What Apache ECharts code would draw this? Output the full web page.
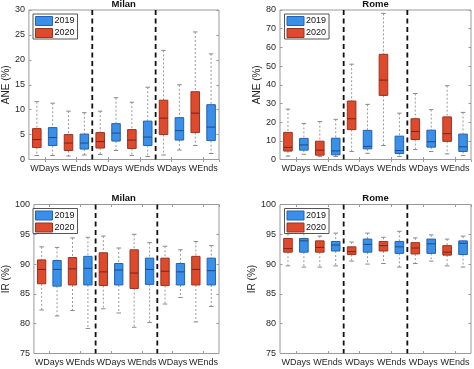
<!DOCTYPE html>
<html><head><meta charset="utf-8">
<script src="https://cdn.jsdelivr.net/npm/echarts@6/dist/echarts.min.js"></script>
<style>html,body{margin:0;padding:0;background:#fff}#c{width:474px;height:369px}</style>
</head><body><div id="c"></div>
<script>
// ---- data ----
const slots = ['1','2','3','4','5','6','7','8','9','10','11','12'];
const groupLabels = ['WDays','WEnds','WDays','WEnds','WDays','WEnds'];
const years = ['2019','2020'];
const dividerPairs = [[3,4],[7,8]];
const panelTitles = ['Milan','Rome','Milan','Rome'];
const yNames = ['ANE (%)','ANE (%)','IR (%)','IR (%)'];
const yMins = [0,0,75,75];
const yMaxs = [30,80,100,100];
const yIntervals = [5,10,5,5];

// [min, q1, median, q3, max] — 2020 boxes (odd slots), 2019 boxes (even slots)
const milanANE_2020 = [[0.8,2.4,4.0,6.2,11.6],[0.7,1.8,3.3,5.0,9.7],[1.0,2.3,3.6,5.4,9.7],[0.8,2.2,3.9,6.0,11.5],[0.9,5.0,8.3,11.9,21.9],[2.8,5.4,9.3,13.6,25.6]];
const milanANE_2019 = [[0.8,2.8,4.4,6.4,11.3],[0.9,2.1,3.3,5.1,9.4],[1.8,3.7,5.3,7.2,12.4],[0.6,2.8,4.5,7.7,14.5],[1.9,3.9,5.8,8.4,15.0],[1.2,3.8,6.5,11.0,21.2]];
const romeANE_2020 = [[1.8,4.5,6.5,14.5,27.0],[1.5,2.3,5.0,9.8,20.3],[4.3,16.0,21.8,31.3,51.0],[7.5,34.3,42.5,56.3,78.2],[5.3,10.7,15.0,21.8,35.3],[3.0,9.7,13.8,22.8,39.5]];
const romeANE_2019 = [[2.8,5.0,7.8,11.3,19.3],[1.6,2.5,4.6,11.4,21.5],[3.3,5.7,7.0,15.6,29.5],[1.6,3.2,4.8,12.5,24.8],[4.3,6.6,9.5,15.7,26.7],[2.1,4.3,6.8,13.6,25.2]];
const milanIR_2020 = [[82.3,86.7,89.1,90.7,92.9],[82.2,86.5,89.2,91.1,94.4],[82.5,86.4,88.7,91.9,94.7],[79.4,85.9,88.5,92.4,95.0],[83.3,86.4,88.8,91.0,93.0],[80.3,86.5,89.1,91.3,93.8]];
const milanIR_2019 = [[81.3,86.3,89.1,90.6,92.8],[79.2,86.5,89.3,91.3,94.5],[81.8,86.5,89.0,90.1,92.7],[80.2,86.6,89.1,91.0,93.6],[84.4,86.5,88.7,90.1,92.4],[82.9,86.5,88.9,91.0,93.1]];
const romeIR_2020 = [[89.7,92.0,92.6,94.3,95.1],[89.5,92.0,92.8,93.9,94.7],[90.5,91.6,92.1,92.9,93.7],[90.1,92.2,93.1,93.8,94.5],[90.1,91.7,92.7,93.6,94.4],[89.7,91.5,92.0,93.1,94.2]];
const romeIR_2019 = [[89.5,92.0,93.9,94.3,95.8],[89.7,92.2,93.2,93.8,95.2],[90.0,92.0,93.3,94.2,95.2],[89.5,91.8,92.9,93.8,95.5],[90.5,91.8,93.4,94.2,94.9],[89.5,91.6,93.5,93.9,94.7]];

const panels2020 = [milanANE_2020, romeANE_2020, milanIR_2020, romeIR_2020];
const panels2019 = [milanANE_2019, romeANE_2019, milanIR_2019, romeIR_2019];

// ---- style ----
const FONT = 'Liberation Sans, Arial, sans-serif';
const colors = {
  '2019': {fill:'#3a8fe8', border:'#2462ad', median:'#1b4c86'},
  '2020': {fill:'#de4a2c', border:'#9c3220', median:'#7a2416'}
};
const grids = [
  {left:28.5, top:10, width:190.5, height:149.5},
  {left:280, top:10, width:191, height:149.5},
  {left:28.5, top:204.5, width:190.5, height:149},
  {left:280, top:204.5, width:191, height:149}
];

function renderBox(year) {
  const c = colors[year];
  return function (params, api) {
    const x = api.value(0);
    const pMin = api.coord([x, api.value(1)]);
    const pQ1 = api.coord([x, api.value(2)]);
    const pMed = api.coord([x, api.value(3)]);
    const pQ3 = api.coord([x, api.value(4)]);
    const pMax = api.coord([x, api.value(5)]);
    const band = api.size([1, 0])[0];
    const w = band * 0.54;
    const cx = pMin[0];
    const capW = 4.5;
    const dash = {stroke:'#9a9a9a', lineWidth:1, lineDash:[2,2]};
    const cap = {stroke:'#8a8a8a', lineWidth:1};
    return {type:'group', children:[
      {type:'line', shape:{x1:cx,y1:pMax[1],x2:cx,y2:pQ3[1]}, style:dash},
      {type:'line', shape:{x1:cx,y1:pQ1[1],x2:cx,y2:pMin[1]}, style:dash},
      {type:'line', shape:{x1:cx-capW/2,y1:pMax[1],x2:cx+capW/2,y2:pMax[1]}, style:cap},
      {type:'line', shape:{x1:cx-capW/2,y1:pMin[1],x2:cx+capW/2,y2:pMin[1]}, style:cap},
      {type:'rect', shape:{x:cx-w/2, y:pQ3[1], width:w, height:pQ1[1]-pQ3[1]}, style:{fill:c.fill, stroke:c.border, lineWidth:1}},
      {type:'line', shape:{x1:cx-w/2,y1:pMed[1],x2:cx+w/2,y2:pMed[1]}, style:{stroke:c.median, lineWidth:1}}
    ]};
  };
}

function renderDivider(params, api) {
  const a = api.coord([api.value(0), 0])[0];
  const b = api.coord([api.value(1), 0])[0];
  const x = (a + b) / 2;
  const cs = params.coordSys;
  return {type:'line', shape:{x1:x, y1:cs.y, x2:x, y2:cs.y + cs.height},
    style:{stroke:'#111', lineWidth:1.8, lineDash:[5,3.5]}};
}

const option = {
  animation:false,
  textStyle:{fontFamily:FONT},
  title:[], grid:[], xAxis:[], yAxis:[], legend:[], series:[]
};

grids.forEach((g, gi) => {
  option.grid.push({left:g.left, top:g.top, width:g.width, height:g.height, show:true, borderColor:'#9a9a9a', borderWidth:1, backgroundColor:'#fff'});
  option.title.push({text:panelTitles[gi], left:g.left + g.width/2, textAlign:'center', top:g.top - 11, padding:0,
    textStyle:{fontSize:9.5, fontWeight:'bold', color:'#111', fontFamily:FONT}});
  // slot axis (top, ticks only)
  option.xAxis.push({type:'category', gridIndex:gi, data:slots, position:'top', boundaryGap:true,
    axisLine:{show:false}, axisLabel:{show:false},
    axisTick:{show:true, inside:true, length:2.5, interval:(i) => i % 2 === 1, lineStyle:{color:'#9a9a9a'}}, splitLine:{show:false}});
  // group label axis (bottom)
  option.xAxis.push({type:'category', gridIndex:gi, data:groupLabels, position:'bottom', boundaryGap:true,
    axisLine:{show:false},
    axisTick:{show:true, inside:true, alignWithLabel:true, interval:0, length:2.5, lineStyle:{color:'#9a9a9a'}},
    axisLabel:{fontSize:9, color:'#262626', margin:5, interval:0, hideOverlap:false, fontFamily:FONT}, splitLine:{show:false}});
  option.yAxis.push({type:'value', gridIndex:gi, min:yMins[gi], max:yMaxs[gi], interval:yIntervals[gi], position:'left',
    name:yNames[gi], nameLocation:'middle', nameGap:14, nameTextStyle:{fontSize:10, color:'#262626', fontFamily:FONT},
    axisLine:{show:false}, axisTick:{show:true, inside:true, length:2.5, lineStyle:{color:'#9a9a9a'}},
    axisLabel:{fontSize:9, color:'#262626', margin:4, fontFamily:FONT}, splitLine:{show:false}});
  option.yAxis.push({type:'value', gridIndex:gi, min:yMins[gi], max:yMaxs[gi], interval:yIntervals[gi], position:'right',
    axisLine:{show:false}, axisTick:{show:true, inside:true, length:2.5, lineStyle:{color:'#9a9a9a'}},
    axisLabel:{show:false}, splitLine:{show:false}});
  option.legend.push({left:g.left + 4.5, top:g.top + 4, orient:'vertical', padding:[2,3,1,2], itemGap:2,
    itemWidth:17, itemHeight:9, icon:'rect', backgroundColor:'#fff', borderColor:'#555', borderWidth:1,
    textStyle:{fontSize:9, color:'#111', fontFamily:FONT, padding:[0,0,0,-3]},
    data: years.map(y => ({name:y, itemStyle:{color:colors[y].fill, borderColor:colors[y].border, borderWidth:1}}))});

  const xi = gi * 2, yi = gi * 2;
  const d2020 = panels2020[gi].map((v, i) => [2*i].concat(v));
  const d2019 = panels2019[gi].map((v, i) => [2*i + 1].concat(v));
  option.series.push({type:'custom', name:'2020', xAxisIndex:xi, yAxisIndex:yi, data:d2020,
    encode:{x:0, y:[1,2,3,4,5]}, renderItem:renderBox('2020'), itemStyle:{color:colors['2020'].fill}, z:3});
  option.series.push({type:'custom', name:'2019', xAxisIndex:xi, yAxisIndex:yi, data:d2019,
    encode:{x:0, y:[1,2,3,4,5]}, renderItem:renderBox('2019'), itemStyle:{color:colors['2019'].fill}, z:3});
  option.series.push({type:'custom', name:'div', xAxisIndex:xi, yAxisIndex:yi, data:dividerPairs,
    encode:{x:[0,1]}, renderItem:renderDivider, z:2, silent:true});
});

const chart = echarts.init(document.getElementById('c'), null, {renderer:'canvas'});
chart.setOption(option);
</script>
</body></html>
